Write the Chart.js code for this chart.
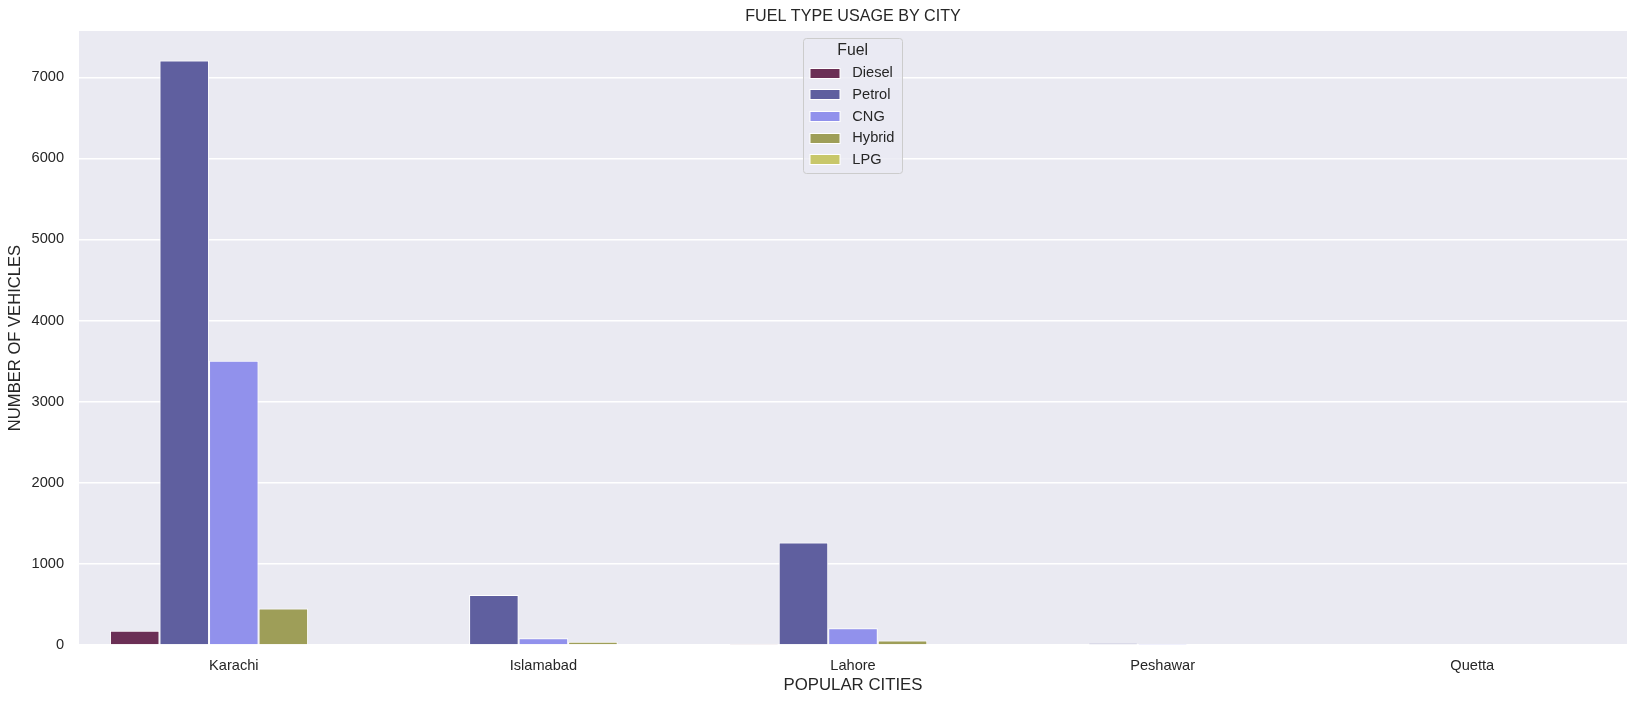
<!DOCTYPE html>
<html><head><meta charset="utf-8">
<style>html,body{margin:0;padding:0;background:#fff}canvas{display:block}</style>
<script src="https://cdn.jsdelivr.net/npm/chart.js@4"></script></head>
<body><canvas id="c" width="1637" height="704"></canvas>
<script>
const cities = ["Karachi","Islamabad","Lahore","Peshawar","Quetta"];
const diesel = [175,0,15,0,0];
const petrol = [7205,615,1265,20,0];
const cng = [3503,82,205,2,0];
const hybrid = [450,40,55,0,0];
const lpg = [0,0,0,0,0];
const yTicks = [0,1000,2000,3000,4000,5000,6000,7000];
const FONT = '"Liberation Sans", Arial, sans-serif';
const INK = '#262626';
const mk = (label,data,color)=>({label,data,backgroundColor:color,borderColor:'#ffffff',borderWidth:1,categoryPercentage:0.8,barPercentage:1});
const plotBg = {id:'plotBg',beforeDraw(ch){const a=ch.chartArea,x=ch.ctx;x.save();x.fillStyle='#eaeaf2';x.fillRect(a.left,a.top,a.right-a.left,a.bottom-a.top);x.restore();}};
const overlay = {id:'overlay',afterDraw(ch){
  const x=ch.ctx;x.save();
  x.fillStyle=INK;x.textBaseline='middle';x.textAlign='center';x.font='16.1px '+FONT;
  x.fillText('FUEL TYPE USAGE BY CITY',853,16.5);
  x.globalAlpha=0.8;x.fillStyle='#eaeaf2';x.strokeStyle='#cccccc';x.lineWidth=1;
  x.beginPath();x.roundRect(803.5,38.5,99,135,3);x.fill();x.globalAlpha=1;x.stroke();
  x.fillStyle=INK;x.font='15.8px '+FONT;
  x.fillText('Fuel',852.7,50.5);
  x.textAlign='left';x.font='14.6px '+FONT;
  ch.data.datasets.forEach((d,i)=>{const y=72.7+i*21.65;
    x.fillStyle=d.backgroundColor;x.strokeStyle='#fff';x.lineWidth=1;
    const t=Math.round(y-5)+0.5;
    x.fillRect(810,t,30,10);x.strokeRect(810,t,30,10);
    x.fillStyle=INK;x.fillText(d.label,852.3,y+0.5);});
  x.restore();}};
new Chart(document.getElementById('c'),{type:'bar',
 data:{labels:cities,datasets:[mk('Diesel',diesel,'#6b2f55'),mk('Petrol',petrol,'#5f5f9f'),mk('CNG',cng,'#9191ec'),mk('Hybrid',hybrid,'#9e9e58'),mk('LPG',lpg,'#c8c76a')]},
 options:{responsive:false,animation:false,devicePixelRatio:1,
  layout:{padding:{left:0,right:10,top:31,bottom:9}},
  plugins:{legend:{display:false},tooltip:{enabled:false},title:{display:false}},
  scales:{
   x:{grid:{display:false,drawTicks:false},border:{display:false},
      ticks:{color:INK,font:{family:FONT,size:14.6},padding:12},
      title:{display:true,text:'POPULAR CITIES',color:INK,font:{family:FONT,size:16.8},padding:{top:0,bottom:0}},
      afterFit(s){s.height=50;}},
   y:{min:0,max:7570,grid:{color:'#ffffff',lineWidth:1.4,drawTicks:false},border:{display:false},
      afterBuildTicks(s){s.ticks=yTicks.map(v=>({value:v}));},
      ticks:{color:INK,font:{family:FONT,size:14.6},padding:15,callback:v=>String(v)},
      title:{display:true,text:'NUMBER OF VEHICLES',color:INK,font:{family:FONT,size:16.6},padding:{top:5.6,bottom:0}},
      afterFit(s){s.width=79;}}
  }},
 plugins:[plotBg,overlay]});
</script></body></html>
